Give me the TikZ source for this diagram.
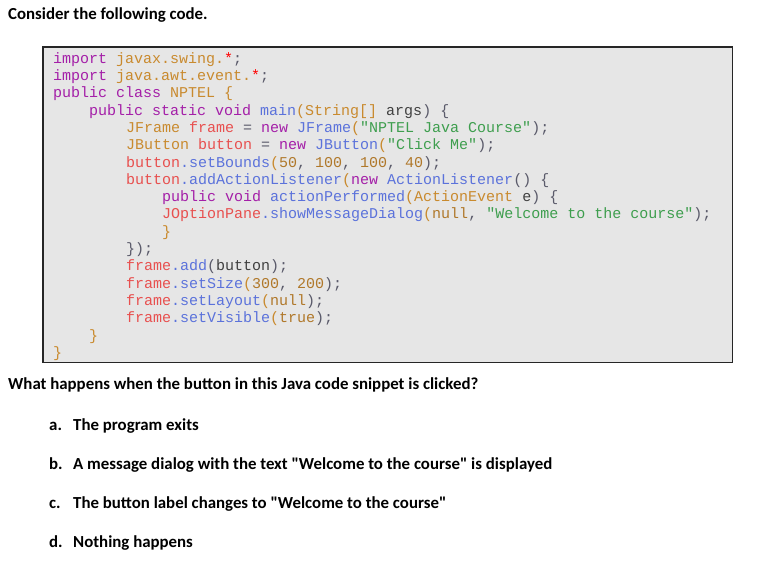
\documentclass[tikz,border=0pt]{standalone}
\usepackage{fontspec}
\setmainfont{Carlito}[Ligatures=TeXOff]
\newfontfamily\codefont{Liberation Mono}
\definecolor{ckw}{HTML}{A41FA8}
\definecolor{cty}{HTML}{C98A2E}
\definecolor{cva}{HTML}{E8504F}
\definecolor{cme}{HTML}{5B72DB}
\definecolor{cst}{HTML}{3E9E4E}
\definecolor{cnm}{HTML}{B0782A}
\definecolor{cpu}{HTML}{5A5A6A}
\definecolor{cid}{HTML}{404040}
\definecolor{cbox}{HTML}{E6E6E6}
\newcommand\jkw[1]{\textcolor{ckw}{#1}}
\newcommand\jty[1]{\textcolor{cty}{#1}}
\newcommand\jva[1]{\textcolor{cva}{#1}}
\newcommand\jme[1]{\textcolor{cme}{#1}}
\newcommand\jst[1]{\textcolor{cst}{#1}}
\newcommand\jnm[1]{\textcolor{cnm}{#1}}
\newcommand\jpu[1]{\textcolor{cpu}{#1}}
\newcommand\jid[1]{\textcolor{cid}{#1}}
\begin{document}
\begin{tikzpicture}[x=1pt,y=-1pt,
  codeline/.style={anchor=base west,inner sep=0pt,font=\codefont\fontsize{15}{15}\selectfont,text=cpu},
  txt/.style={anchor=base west,inner sep=0pt,font=\bfseries\fontsize{16.85}{18}\selectfont,text=black},
  codebox/.style={draw=black!85,line width=1.3pt,fill=cbox}]
\useasboundingbox (0,0) rectangle (766,561);
\node[txt] (title) at (8,19.5) {Consider the following code.};
\draw[codebox] (43,47) rectangle (732.5,362.5);
\def\bl#1{63.3+(#1-1)*17.3}
\node[codeline] (l1) at (53,{\bl{1}}) {\jkw{import} \jty{javax.swing.}\textcolor{red}{*}\jpu{;}};
\node[codeline] (l2) at (53,{\bl{2}}) {\jkw{import} \jty{java.awt.event.}\textcolor{red}{*}\jpu{;}};
\node[codeline] (l3) at (53,{\bl{3}}) {\jkw{public} \jkw{class} \jty{NPTEL} \jty{\{}};
\node[codeline] (l4) at (89,{\bl{4}}) {\jkw{public} \jkw{static} \jkw{void} \jme{main}\jty{(String[]} \jid{args}) \{};
\node[codeline] (l5) at (126,{\bl{5}}) {\jty{JFrame} \jva{frame} = \jkw{new} \jme{JFrame}\jty{(}\jst{"NPTEL Java Course"});};
\node[codeline] (l6) at (126,{\bl{6}}) {\jty{JButton} \jva{button} = \jkw{new} \jme{JButton}\jty{(}\jst{"Click Me"});};
\node[codeline] (l7) at (126,{\bl{7}}) {\jva{button}\jme{.setBounds}\jty{(}\jnm{50}, \jnm{100}, \jnm{100}, \jnm{40});};
\node[codeline] (l8) at (126,{\bl{8}}) {\jva{button}\jme{.addActionListener}\jty{(}\jkw{new} \jme{ActionListener}() \{};
\node[codeline] (l9) at (162,{\bl{9}}) {\jkw{public} \jkw{void} \jme{actionPerformed}\jty{(ActionEvent} \jid{e}) \{};
\node[codeline] (l10) at (162,{\bl{10}}) {\jva{JOptionPane}\jme{.showMessageDialog}\jty{(}\jnm{null}, \jst{"Welcome to the course"});};
\node[codeline] (l11) at (162,{\bl{11}}) {\jty{\}}};
\node[codeline] (l12) at (126,{\bl{12}}) {\});};
\node[codeline] (l13) at (126,{\bl{13}}) {\jva{frame}\jme{.add}(\jid{button});};
\node[codeline] (l14) at (126,{\bl{14}}) {\jva{frame}\jme{.setSize}\jty{(}\jnm{300}, \jnm{200});};
\node[codeline] (l15) at (126,{\bl{15}}) {\jva{frame}\jme{.setLayout}\jty{(}\jnm{null});};
\node[codeline] (l16) at (126,{\bl{16}}) {\jva{frame}\jme{.setVisible}\jty{(}\jnm{true});};
\node[codeline] (l17) at (89,{\bl{17}}) {\jty{\}}};
\node[codeline] (l18) at (53,{\bl{18}}) {\jty{\}}};
\node[txt] (q) at (8,389) {What happens when the button in this Java code snippet is clicked?};
\node[txt] (la) at (49,430) {a.};
\node[txt] (oa) at (73,430) {The program exits};
\node[txt] (lb) at (49,469) {b.};
\node[txt] (ob) at (73,469) {A message dialog with the text "Welcome to the course" is displayed};
\node[txt] (lc) at (49,508) {c.};
\node[txt] (oc) at (73,508) {The button label changes to "Welcome to the course"};
\node[txt] (ld) at (49,547.3) {d.};
\node[txt] (od) at (73,547.3) {Nothing happens};
\end{tikzpicture}
\end{document}
